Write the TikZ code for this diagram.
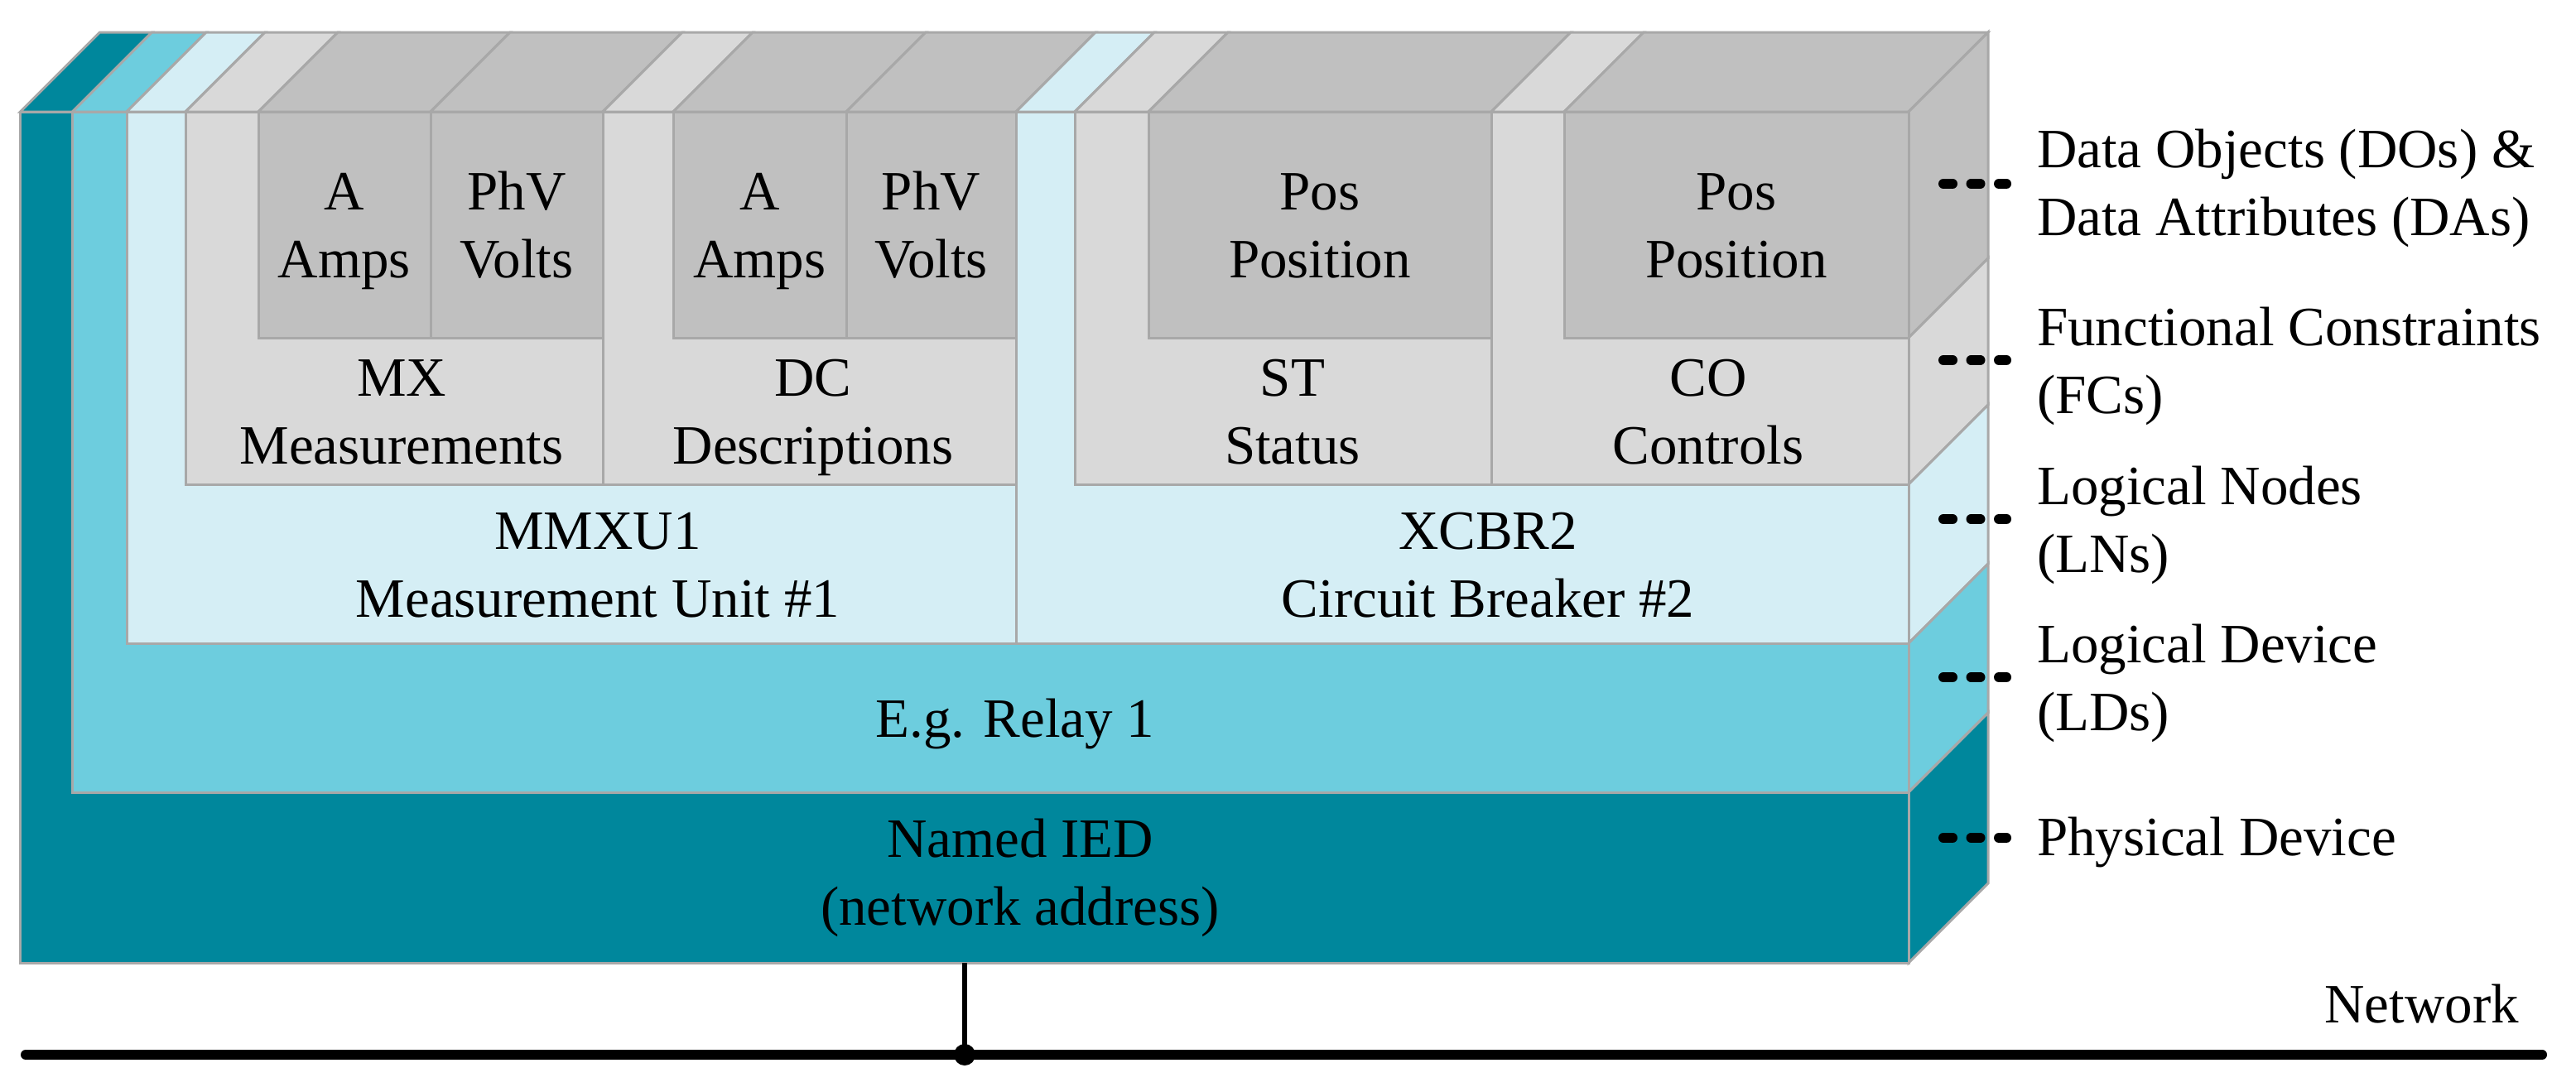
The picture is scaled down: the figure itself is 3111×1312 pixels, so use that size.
\documentclass[tikz,border=0pt]{standalone}
\usepackage{fontspec}
\setmainfont{Liberation Serif}
\definecolor{tealdark}{HTML}{00879C}
\definecolor{tealmid}{HTML}{6DCDDE}
\definecolor{bluelight}{HTML}{D5EEF5}
\definecolor{graylight}{HTML}{D9D9D9}
\definecolor{graydark}{HTML}{C0C0C0}
\definecolor{edgegray}{HTML}{A8A8A8}
\newcommand{\twol}[2]{\strut #1\\\strut #2}
\begin{document}
\begin{tikzpicture}[x=1pt,y=-1pt,
  face/.style={draw=edgegray,line width=3pt},
  lbl/.style={font=\fontsize{67}{82}\selectfont,align=center,inner sep=0pt},
  sidelbl/.style={lbl,align=left,anchor=west},
  leader/.style={line width=12pt,line cap=round,dash pattern=on 11pt off 22.5pt},
  netline/.style={line width=12pt,line cap=round}]
\useasboundingbox (0,0) rectangle (3111,1312);
% top face
\foreach \xa/\xb/\fc in {24.5/87.5/tealdark,87.5/153/tealmid,153/224/bluelight,224/312/graylight,
  312/520/graydark,520/728/graydark,728/813/graylight,813/1022/graydark,1022/1227/graydark,
  1227/1298/bluelight,1298/1387/graylight,1387/1801/graydark,1801/1889/graylight,1889/2305/graydark}
  \filldraw[face,fill=\fc] (\xa,135) -- (\xb,135) -- ({\xb+96},39) -- ({\xa+96},39) -- cycle;
% right face
\foreach \ya/\yb/\fc in {135/408/graydark,408/585/graylight,585/777/bluelight,777/957/tealmid,957/1163/tealdark}
  \filldraw[face,fill=\fc] (2305,\ya) -- (2305,\yb) -- (2401,{\yb-96}) -- (2401,{\ya-96}) -- cycle;
% front: physical device, logical device
\filldraw[face,fill=tealdark] (24.5,135) rectangle (2305,1163);
\filldraw[face,fill=tealmid] (87.5,135) rectangle (2305,957);
% logical nodes
\filldraw[face,fill=bluelight] (153,135) rectangle (1227,777);
\filldraw[face,fill=bluelight] (1227,135) rectangle (2305,777);
% functional constraints
\foreach \xa/\xb in {224/728,728/1227,1298/1801,1801/2305}
  \filldraw[face,fill=graylight] (\xa,135) rectangle (\xb,585);
% data objects
\foreach \xa/\xb in {312/520,520/728,813/1022,1022/1227,1387/1801,1889/2305}
  \filldraw[face,fill=graydark] (\xa,135) rectangle (\xb,408);
% texts in the box
\node[lbl] (doA1) at (416,278) {\twol{A}{Amps}};
\node[lbl] (doV1) at (624,278) {\twol{PhV}{Volts}};
\node[lbl] (doA2) at (917.5,278) {\twol{A}{Amps}};
\node[lbl] (doV2) at (1124.5,278) {\twol{PhV}{Volts}};
\node[lbl] (doP1) at (1594,278) {\twol{Pos}{Position}};
\node[lbl] (doP2) at (2097,278) {\twol{Pos}{Position}};
\node[lbl] (fcMX) at (485,503) {\twol{MX}{Measurements}};
\node[lbl] (fcDC) at (982,503) {\twol{DC}{Descriptions}};
\node[lbl] (fcST) at (1561,503) {\twol{ST}{Status}};
\node[lbl] (fcCO) at (2063,503) {\twol{CO}{Controls}};
\node[lbl] (lnM) at (722,688) {\twol{MMXU1}{Measurement Unit \#1}};
\node[lbl] (lnX) at (1797,688) {\twol{XCBR2}{Circuit Breaker \#2}};
\node[lbl] (ld) at (1226,874) {\strut E.g. Relay 1};
\node[lbl] (ied) at (1232,1060) {\twol{Named IED}{(network address)}};
% side labels
\node[sidelbl] (sDO) at (2460,227) {\twol{Data Objects (DOs) \&}{Data Attributes (DAs)}};
\node[sidelbl] (sFC) at (2460,442) {\twol{Functional Constraints}{(FCs)}};
\node[sidelbl] (sLN) at (2460,634) {\twol{Logical Nodes}{(LNs)}};
\node[sidelbl] (sLD) at (2460,825) {\twol{Logical Device}{(LDs)}};
\node[sidelbl] (sPD) at (2460,1017) {\strut Physical Device};
% leaders
\foreach \yy in {222,435,627,818,1012}
  \draw[leader] (2347,\yy) -- (2423,\yy);
% network
\coordinate (netL) at (31,1274);
\coordinate (netR) at (3070,1274);
\coordinate (iedbot) at (1165,1163);
\coordinate (tap) at (1165,1274);
\draw[netline] (netL) -- (netR);
\draw[line width=6pt] (iedbot) -- (tap);
\fill (tap) circle (13);
\node[lbl,anchor=base east] (net) at (3042,1235) {Network};
\end{tikzpicture}
\end{document}
